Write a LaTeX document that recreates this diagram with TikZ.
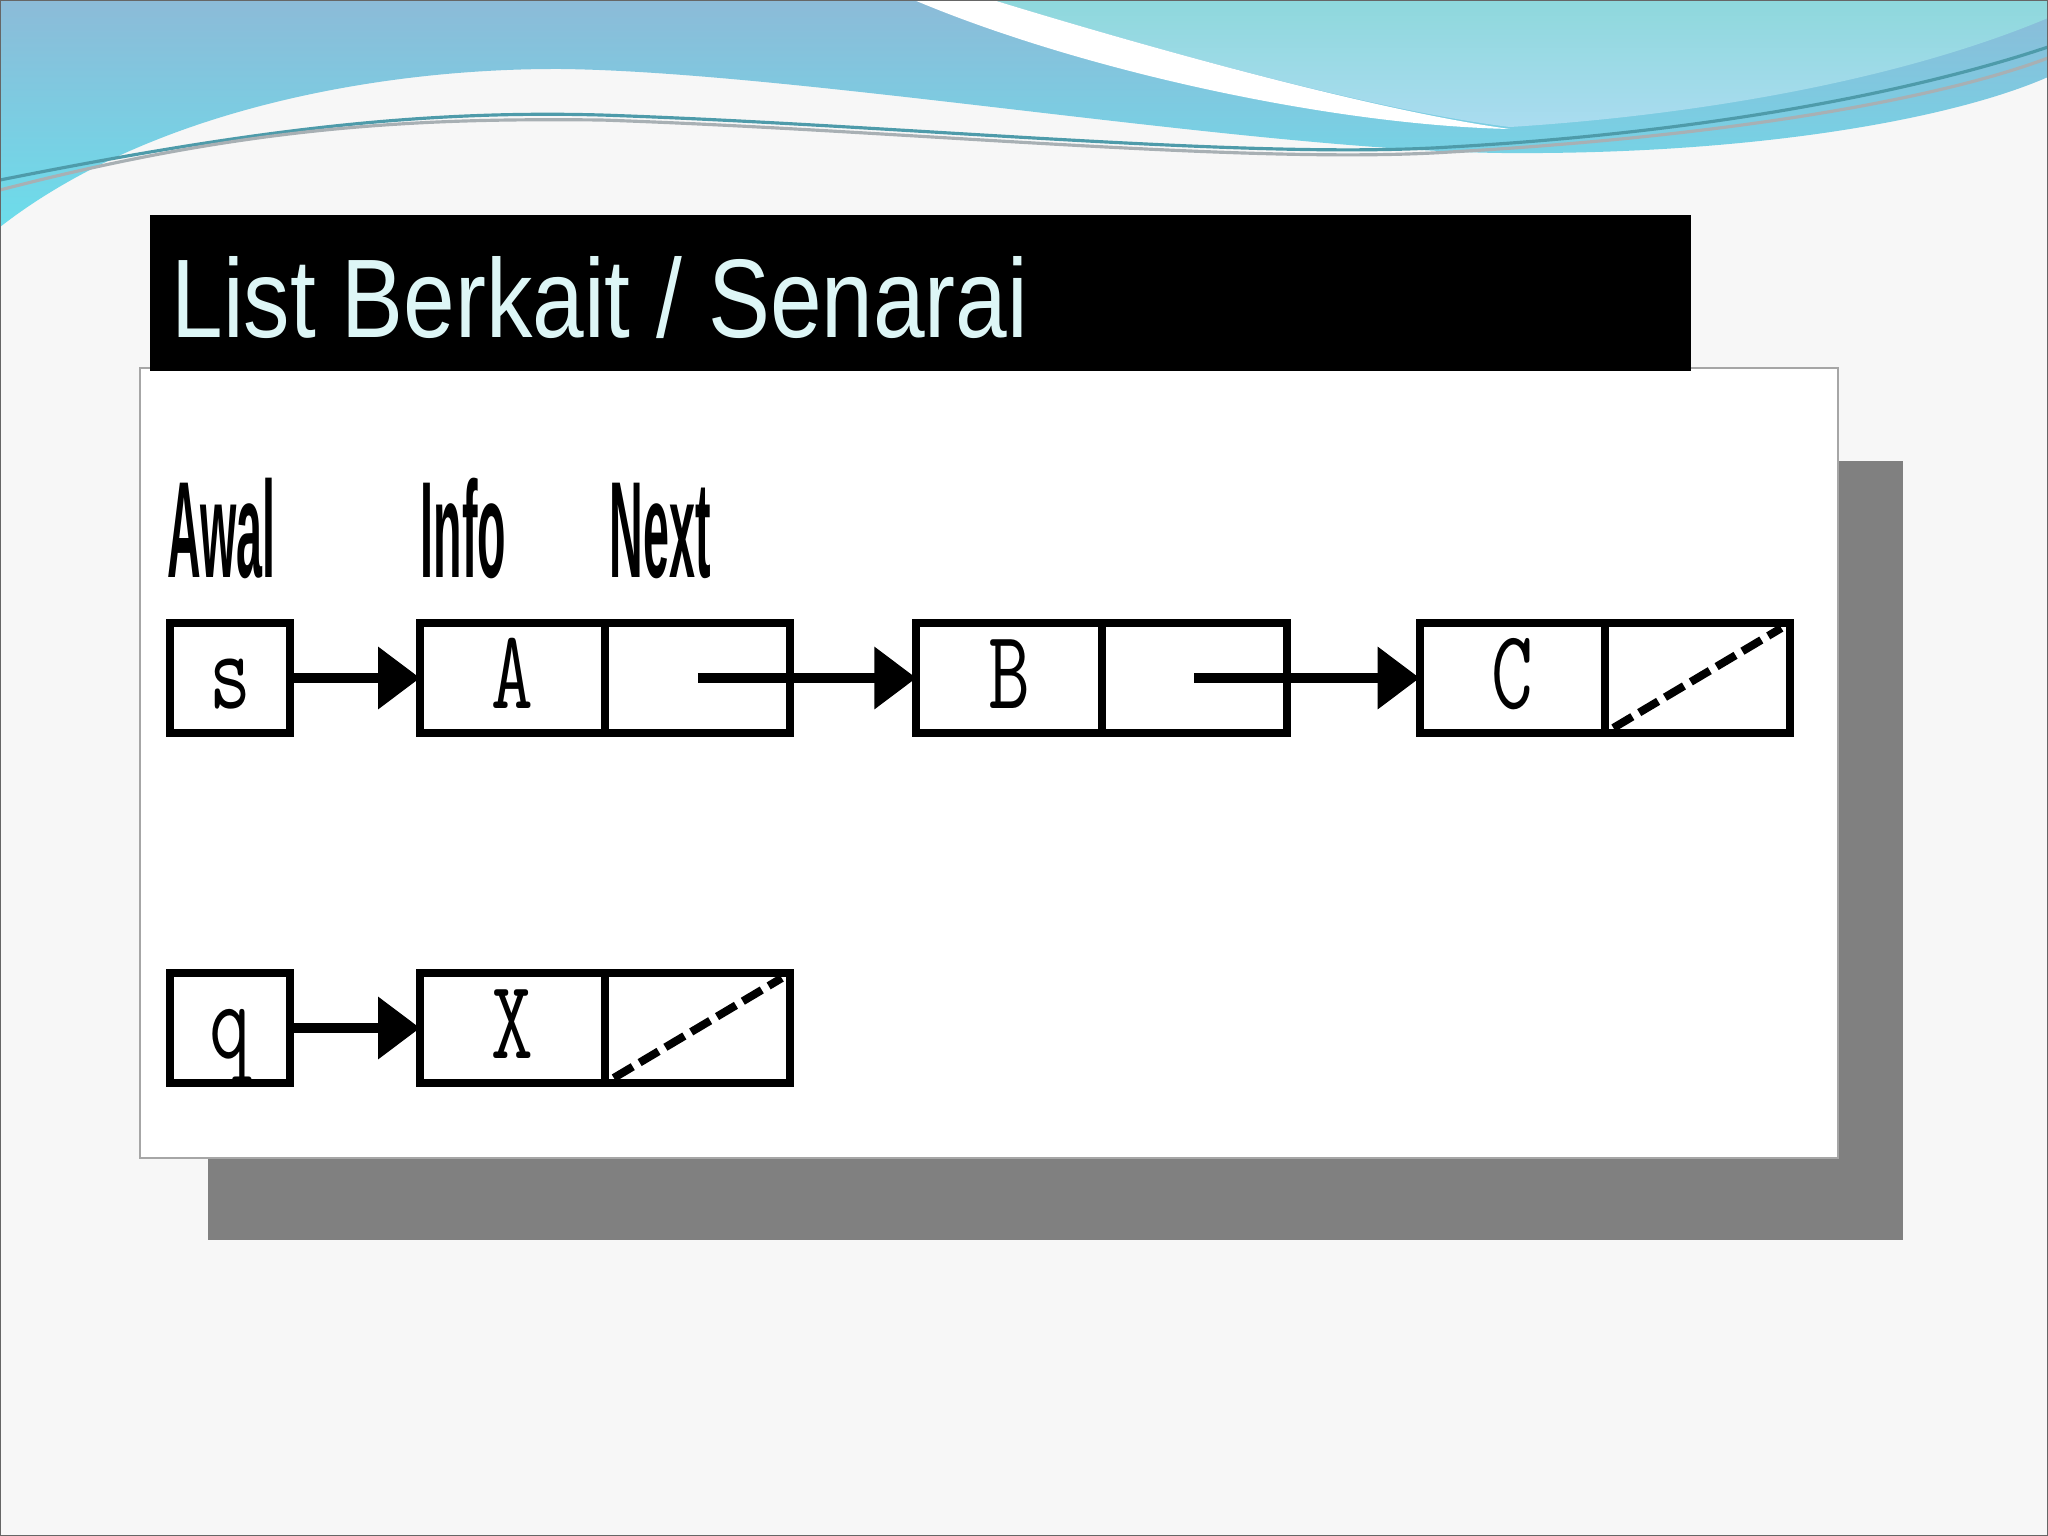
\documentclass[tikz,border=0pt]{standalone}
\usepackage{fontspec}
\setmainfont{Liberation Sans}
\usepackage{xcolor}
\usepackage{tikz}
\usetikzlibrary{arrows.meta,positioning}
\definecolor{pagebg}{HTML}{F7F7F7}
\definecolor{wavetop}{HTML}{8CBBD8}
\definecolor{wavebot}{HTML}{6CDDEB}
\definecolor{paletop}{HTML}{8ED8DC}
\definecolor{palebot}{HTML}{AADCF0}
\definecolor{titletext}{HTML}{DDF6F6}
\definecolor{shadowgray}{HTML}{808080}
\definecolor{lineteal}{HTML}{4E9BAA}
\definecolor{linegray}{HTML}{A8B0B4}
\newcommand{\cellglyph}[1]{\scalebox{0.72}[1]{#1}}
\newcommand{\headtext}[1]{\scalebox{0.34}[1]{#1}}
\tikzset{
  ptrbox/.style={
    rectangle, draw, line width=0.08cm, fill=white,
    minimum width=1.2cm, minimum height=1.1cm,
    inner sep=0pt, outer sep=0pt, text height=0.6cm, text depth=0pt,
    font=\ttfamily\fontsize{32}{32}\selectfont
  },
  infocell/.style={ptrbox, minimum width=1.85cm},
  nextcell/.style={infocell},
  colhead/.style={anchor=base west, inner sep=0pt, font=\bfseries\fontsize{39}{39}\selectfont},
  slidetitle/.style={anchor=base west, inner sep=0pt, text=titletext, font=\fontsize{31.8}{32}\selectfont},
  ptr/.style={-{Triangle[length=0.42cm,width=0.6cm]}, line width=0.1cm},
  nullptr/.style={line width=0.08cm, dash pattern=on 0.22cm off 0.08cm, shorten <=0.1cm, shorten >=0.1cm},
}
\begin{document}
\begin{tikzpicture}[x=0.01cm, y=-0.01cm]
  \useasboundingbox (0,0) rectangle (2048,1536);
  \fill[pagebg] (0,0) rectangle (2048,1536);

  % Wave banner
  \shade[top color=wavetop, bottom color=wavebot]
    (0,0) -- (2048,0) -- (2048,77)
    .. controls (1950,120) and (1750,155) .. (1502,153)
    .. controls (1250,150) and (800,72) .. (562,69)
    .. controls (380,68) and (150,110) .. (0,227) -- cycle;
  \shade[top color=paletop, bottom color=palebot]
    (993,0) .. controls (1140,45) and (1370,110) .. (1510,127)
    .. controls (1700,115) and (1900,80) .. (2048,18) -- (2048,0) -- cycle;
  \fill[white]
    (914,0) .. controls (1080,70) and (1330,125) .. (1510,129)
    .. controls (1370,110) and (1140,45) .. (993,0) -- cycle;
  \draw[color=lineteal, line width=0.9pt]
    (0,180) .. controls (250,130) and (420,110) .. (601,115)
    .. controls (900,125) and (1250,160) .. (1450,147)
    .. controls (1750,130) and (1950,80) .. (2048,47);
  \draw[color=linegray, line width=0.9pt]
    (0,190) .. controls (250,125) and (420,118) .. (601,120)
    .. controls (900,130) and (1250,165) .. (1450,152)
    .. controls (1750,135) and (1950,95) .. (2048,58);

  % Panel, shadow and title bar
  \fill[shadowgray] (208,461) rectangle (1903,1240);
  \draw[fill=white, draw=gray!70, line width=0.6pt] (140,368) rectangle (1838,1158);
  \fill[black] (150,215) rectangle (1691,371);
  \node[slidetitle] (title) at (171,337) {\scalebox{0.83}[1]{List Berkait / Senarai}};

  % Column headings
  \node[colhead] (awal) at (167,577) {\headtext{Awal}};
  \node[colhead] (info) at (420,577) {\headtext{Info}};
  \node[colhead] (next) at (609,577) {\headtext{Next}};

  % First list
  \node[ptrbox] (s) at (230,678) {\cellglyph{s}};
  \node[infocell, right=1.3cm of s] (ainfo) {\cellglyph{A}};
  \node[nextcell, right=0pt of ainfo] (anext) {};
  \node[infocell, right=1.26cm of anext] (binfo) {\cellglyph{B}};
  \node[nextcell, right=0pt of binfo] (bnext) {};
  \node[infocell, right=1.33cm of bnext] (cinfo) {\cellglyph{C}};
  \node[nextcell, right=0pt of cinfo] (cnext) {};

  % Second list
  \node[ptrbox] (q) at (230,1028) {\cellglyph{q}};
  \node[infocell, right=1.3cm of q] (xinfo) {\cellglyph{X}};
  \node[nextcell, right=0pt of xinfo] (xnext) {};

  % Pointers
  \draw[ptr] (s) -- (ainfo);
  \draw[ptr] (anext.center) -- (binfo);
  \draw[ptr] (bnext.center) -- (cinfo);
  \draw[ptr] (q) -- (xinfo);

  % Null pointers
  \draw[nullptr] (cnext.south west) -- (cnext.north east);
  \draw[nullptr] (xnext.south west) -- (xnext.north east);

  \draw[color=gray!80!black, line width=0.8pt] (0,0) rectangle (2048,1536);
\end{tikzpicture}
\end{document}
